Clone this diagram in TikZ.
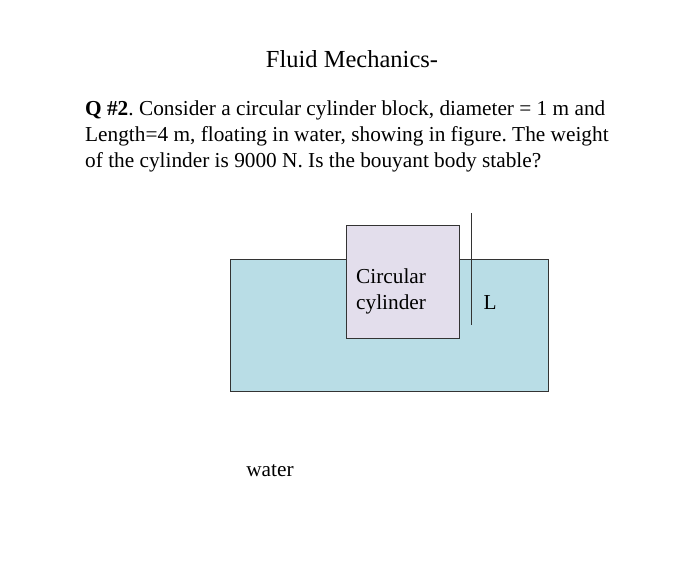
\documentclass[tikz,border=0pt]{standalone}
\usepackage{fontspec}
\setmainfont{Liberation Serif}
\begin{document}
\frenchspacing
\begin{tikzpicture}[x=1pt,y=-1pt,
  txt/.style={inner sep=0pt,font=\fontsize{21.3}{26}\selectfont},
  box/.style={draw=black!80,line width=0.8pt}]
\useasboundingbox (0,0) rectangle (700,581);
\node[txt,font=\fontsize{24.5}{28}\selectfont] (title) at (352,59) {Fluid Mechanics-};
\node[txt,anchor=west] (l1) at (85,110) {\textbf{Q \#2}. Consider a circular cylinder block, diameter = 1 m and};
\node[txt,anchor=west] (l2) at (85,136) {Length=4 m, floating in water, showing in figure. The weight};
\node[txt,anchor=west] (l3) at (85,162) {of the cylinder is 9000 N. Is the bouyant body stable?};
\filldraw[box,fill={rgb,255:red,185;green,221;blue,230}] (230,259) rectangle (548,391);
\filldraw[box,fill={rgb,255:red,227;green,222;blue,236}] (346,225) rectangle (459,338);
\node[txt,align=left,anchor=west] (cyl) at (356,291) {Circular\\cylinder};
\coordinate (t) at (471,213);
\coordinate (b) at (471,325);
\draw[black!80,line width=0.8pt] (t) -- (b);
\node[txt] (L) at (490,303) {L};
\node[txt] (water) at (270,471) {water};
\end{tikzpicture}
\end{document}
